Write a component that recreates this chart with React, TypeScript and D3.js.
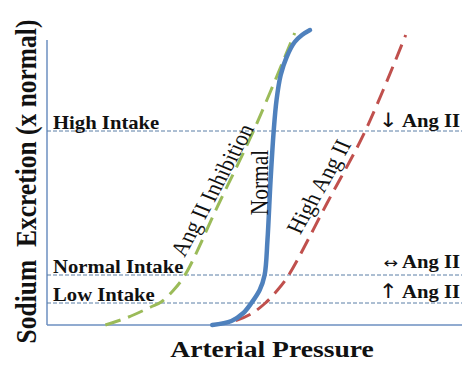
import React from 'react';
import * as d3 from 'd3';

// curves: [pressure, excretion (x normal)]
const normalCurve: [number, number][] = [
  [63.7, 0], [71.1, 0.08], [75.7, 0.24], [78.8, 0.44], [82.0, 0.7], [83.9, 1.0],
  [85.0, 1.7], [86.2, 2.9], [87.4, 3.88], [88.5, 4.5], [90.1, 5.0], [92.4, 5.36],
  [95.5, 5.66], [98.3, 5.8], [101.4, 5.9],
];
const inhibitionCurve: [number, number][] = [
  [22.5, 0], [31, 0.15], [40, 0.36], [44, 0.46], [48.5, 0.68], [53.2, 1.0],
  [66, 2.4], [79.6, 3.88], [95.5, 5.84],
];
const highAngCurve: [number, number][] = [
  [63.7, 0], [72.2, 0.08], [78.6, 0.22], [84.2, 0.44], [88.9, 0.7], [93.2, 1.0],
  [108, 2.44], [122.7, 3.88], [138.3, 5.8],
];

const intakeLevels = [3.88, 1.0, 0.44];
const intakeLabels = ['High Intake', 'Normal Intake', 'Low Intake'];
const angArrows = ['\u2193', '\u2194', '\u2191'];
const angOffsets = [4, 7, 5];

const W = 474, H = 371;
const margin = { top: 40, right: 15, bottom: 46, left: 47 };
const serif = 'Liberation Serif, Tinos, DejaVu Serif, Times New Roman, serif';
const SX = 1.15; // the original picture is stretched sideways

function Label({ x, y, angle = 0, size, bold = false, anchor = 'start', dy, children }: any) {
  return (
    <g transform={`translate(${x},${y}) scale(${SX},1) rotate(${angle})`}>
      <text textAnchor={anchor} dy={dy} fontFamily={serif} fontWeight={bold ? 'bold' : 'normal'}
        fontSize={size} fill="#111" xmlSpace="preserve">
        {children}
      </text>
    </g>
  );
}

export default function App() {
  const x = d3.scaleLinear().domain([0, 160]).range([margin.left, W - margin.right + 3]);
  const y = d3.scaleLinear().domain([0, 5.7]).range([H - margin.bottom, margin.top]);
  const line = d3.line<[number, number]>()
    .x(d => x(d[0]))
    .y(d => y(d[1]))
    .curve(d3.curveCatmullRom.alpha(0.5));

  const x0 = x(0), x1 = x(160), y0 = y(0);

  return (
    <svg width={W} height={H} style={{ position: 'absolute', left: 0, top: 0, background: '#fff' }}>
      {/* axes */}
      <line x1={x0} x2={x0} y1={y(5.7)} y2={y0} stroke="#6d8fc0" strokeWidth={1.5} />
      <line x1={x0} x2={x1} y1={y0} y2={y0} stroke="#6d8fc0" strokeWidth={1.5} />

      {intakeLevels.map((v, i) => (
        <g key={i}>
          <line x1={x0} x2={x1} y1={y(v)} y2={y(v)} stroke="#5b7fa6" strokeWidth={1} strokeDasharray="4,2" />
          <Label x={53} y={y(v) - 2} size={18} bold>{intakeLabels[i]}</Label>
          <Label x={460} y={y(v) - angOffsets[i]} size={18} bold anchor="end">
            <tspan fontFamily="DejaVu Sans" fontWeight="normal" fontSize={i === 1 ? 15 : 20}>{angArrows[i]}</tspan>
            <tspan>{' Ang II'}</tspan>
          </Label>
        </g>
      ))}

      <path d={line(inhibitionCurve) || ''} fill="none" stroke="#9bbb59" strokeWidth={3} strokeDasharray="16,8" />
      <path d={line(highAngCurve) || ''} fill="none" stroke="#c0504d" strokeWidth={3} strokeDasharray="16,8" />
      <path d={line(normalCurve) || ''} fill="none" stroke="#4f81bd" strokeWidth={4.5} strokeLinecap="round" />

      <Label x={212} y={190} angle={-64.8} size={21} anchor="middle" dy="0.35em">Ang II Inhibition</Label>
      <Label x={259} y={182.5} angle={-90} size={21.5} anchor="middle" dy="0.35em">Normal</Label>
      <Label x={318.5} y={186.5} angle={-63.7} size={21} anchor="middle" dy="0.35em">High Ang II</Label>

      <Label x={36} y={181.5} angle={-90} size={25.5} bold anchor="middle">{'Sodium  Excretion (x normal)'}</Label>
      <Label x={272} y={357} size={24} bold anchor="middle">Arterial Pressure</Label>
    </svg>
  );
}
